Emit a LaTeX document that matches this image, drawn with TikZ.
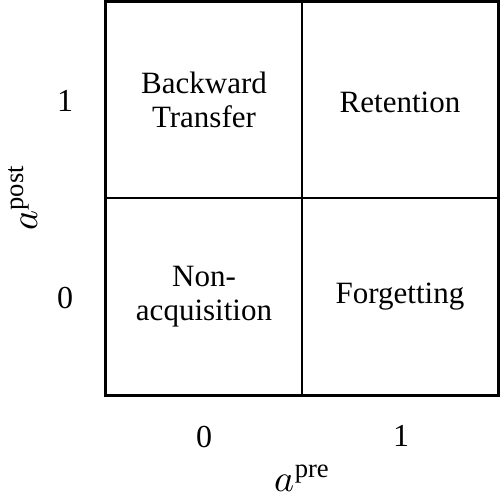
\documentclass[tikz,border=0pt]{standalone}
\usepackage{fontspec}
\usepackage{unicode-math}
\setmainfont{Liberation Serif}
\setmathfont{Latin Modern Math}
\begin{document}
\begin{tikzpicture}[x=1pt,y=-1pt,
  cell/.style={font=\fontsize{31}{34}\selectfont, align=center},
  tick/.style={font=\fontsize{32}{36}\selectfont, anchor=base, inner sep=0pt},
  axis/.style={font=\fontsize{38}{42}\selectfont, anchor=base, inner sep=0pt}]
\useasboundingbox (0,0) rectangle (503,499);
\draw[line width=1.3pt] (302,1.5) -- (302,395) (105.5,198) -- (498,198);
\draw[line width=3pt] (105.5,1.5) rectangle (498,395);
\node[cell] (bt) at (204,100) {Backward\\Transfer};
\node[cell] (ret) at (400,102) {Retention};
\node[cell] (na) at (204,297) {Non-\\acquisition};
\node[cell] (fg) at (400,297) {Forgetting};
\node[tick] (y1) at (65,111) {1};
\node[tick] (y0) at (65,308) {0};
\node[tick] (x0) at (204,447) {0};
\node[tick] (x1) at (401,446) {1};
\node[axis] (xl) at (302,491) {$a^{\mathrm{pre}}$};
\node[axis, rotate=90] (yl) at (37,198) {$a^{\mathrm{post}}$};
\end{tikzpicture}
\end{document}
